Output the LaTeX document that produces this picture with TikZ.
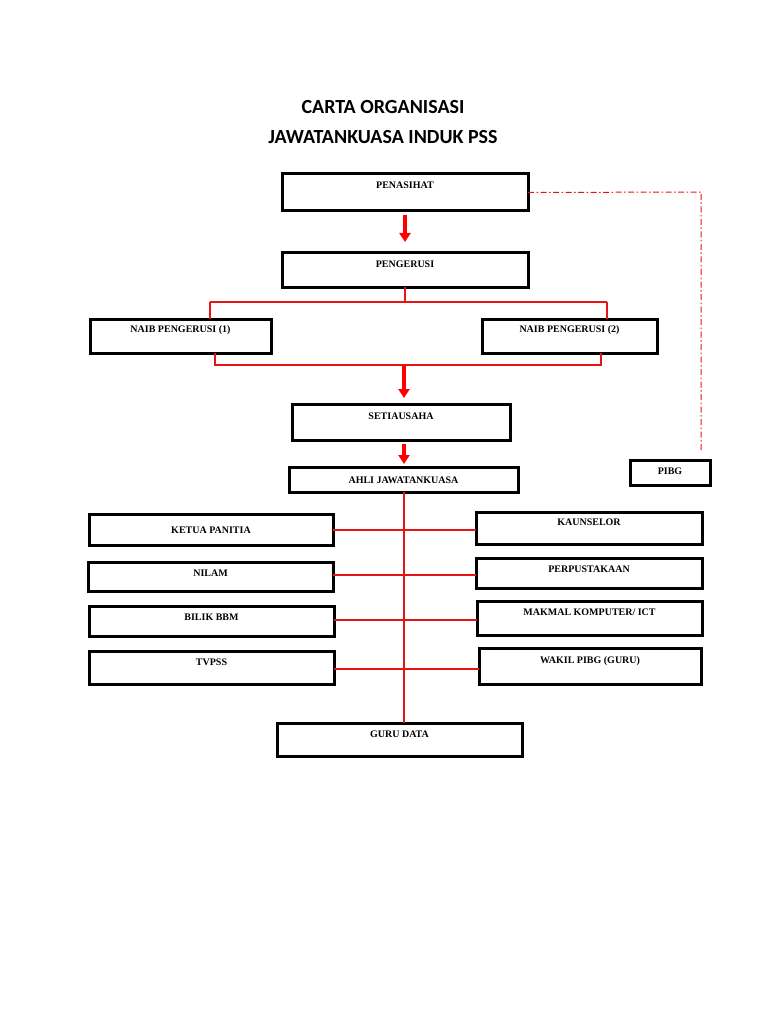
\documentclass[tikz,border=0pt]{standalone}
\usepackage{fontspec}
\setmainfont{Liberation Serif}
\newfontfamily\titlefont{Carlito}
\usetikzlibrary{arrows.meta,calc}
\definecolor{lnred}{RGB}{230,20,20}
\tikzset{
  orgbox/.style={draw=black, line width=3pt, rectangle, inner sep=0pt, outer sep=0pt, fill=white},
  lab/.style={font=\fontsize{10}{11}\selectfont\bfseries, inner sep=0pt, anchor=center},
  ttl/.style={font=\titlefont\fontsize{20}{22}\selectfont\bfseries, inner sep=0pt},
  conn/.style={draw=lnred, line width=1.2pt},
  dashdot/.style={draw=lnred, line width=1pt, dash pattern=on 6pt off 2.5pt on 1.5pt off 2.5pt},
  bigarrow/.style={draw=red, line width=3.6pt, -{Triangle[width=11pt,length=9pt]}, fill=red}
}
\newcommand\orgnode[7]{%
  \node[orgbox, anchor=north west, minimum width={(#4-#2)*1pt}, minimum height={(#5-#3)*1pt}] (#1) at (#2,#3) {};
  \node[lab] (#1t) at ({(#2+#4)/2},#7) {#6};
}
\begin{document}
\begin{tikzpicture}[x=1pt,y=-1pt]
\useasboundingbox[fill=white] (0,0) rectangle (768,1024);
\node[ttl] (t1) at (383,107) {CARTA ORGANISASI};
\node[ttl] (t2) at (383,137) {JAWATANKUASA INDUK PSS};

\coordinate (jt) at (405,302);
\coordinate (jtL) at (210,302);
\coordinate (jtR) at (607,302);
\coordinate (bkL) at (215,365);
\coordinate (bkR) at (601,365);
\coordinate (bkM) at (404,365);
\coordinate (sp) at (404,0);
\coordinate (dd) at (701,192);
\coordinate (ddb) at (701,452);

\orgnode{pen}{282}{174}{528}{211}{PENASIHAT}{185}
\orgnode{peng}{282}{252}{528}{287}{PENGERUSI}{264}
\orgnode{naibA}{90}{319}{271}{353}{NAIB PENGERUSI (1)}{330}
\orgnode{naibB}{482}{319}{657}{353}{NAIB PENGERUSI (2)}{330}
\orgnode{setia}{292}{404}{510}{440}{SETIAUSAHA}{416}
\orgnode{ahli}{289}{467}{518}{492}{AHLI JAWATANKUASA}{480}
\orgnode{pibg}{630}{460}{710}{485}{PIBG}{471}
\orgnode{ketua}{89}{514}{333}{545}{KETUA PANITIA}{530}
\orgnode{kaun}{476}{512}{702}{544}{KAUNSELOR}{522}
\orgnode{nilam}{88}{562}{333}{591}{NILAM}{573}
\orgnode{perp}{476}{558}{702}{588}{PERPUSTAKAAN}{569}
\orgnode{bilik}{89}{606}{334}{636}{BILIK BBM}{617}
\orgnode{makmal}{477}{601}{702}{635}{MAKMAL KOMPUTER/ ICT}{612}
\orgnode{tvpss}{89}{651}{334}{684}{TVPSS}{662}
\orgnode{wakil}{479}{648}{701}{684}{WAKIL PIBG (GURU)}{661}
\orgnode{guru}{277}{723}{522}{756}{GURU DATA}{734}

% bracket above naib
\draw[conn] (peng.south) -- (jt);
\draw[conn] (jtL) -- (jtR);
\draw[conn] (jtL) -- (jtL |- naibA.north);
\draw[conn] (jtR) -- (jtR |- naibB.north);
% bracket below naib
\draw[conn] (bkL |- naibA.south) -- (bkL) -- (bkR) -- (bkR |- naibB.south);

% big arrows
\draw[bigarrow, shorten <=4pt, shorten >=10pt] (pen.south) -- (pen.south |- peng.north);
\draw[bigarrow, shorten >=6pt] (bkM) -- (bkM |- setia.north);
\draw[bigarrow, shorten <=4pt, shorten >=3pt] (bkM |- setia.south) -- (bkM |- ahli.north);

% spine and branches
\draw[conn] (sp |- ahli.south) -- (sp |- guru.north);
\draw[conn] ($(ketua.east)+(0,0.5)$) -- ($(ketua.east -| kaun.west)+(0,0.5)$);
\draw[conn] ($(nilam.east)+(0,-1.5)$) -- ($(nilam.east -| perp.west)+(0,-1.5)$);
\draw[conn] ($(bilik.east)+(0,-1)$) -- ($(bilik.east -| makmal.west)+(0,-1)$);
\draw[conn] ($(tvpss.east)+(0,1.5)$) -- ($(tvpss.east -| wakil.west)+(0,1.5)$);

% dash-dot to PIBG
\draw[dashdot] (pen.east) -- (dd) -- (ddb);
\end{tikzpicture}
\end{document}
